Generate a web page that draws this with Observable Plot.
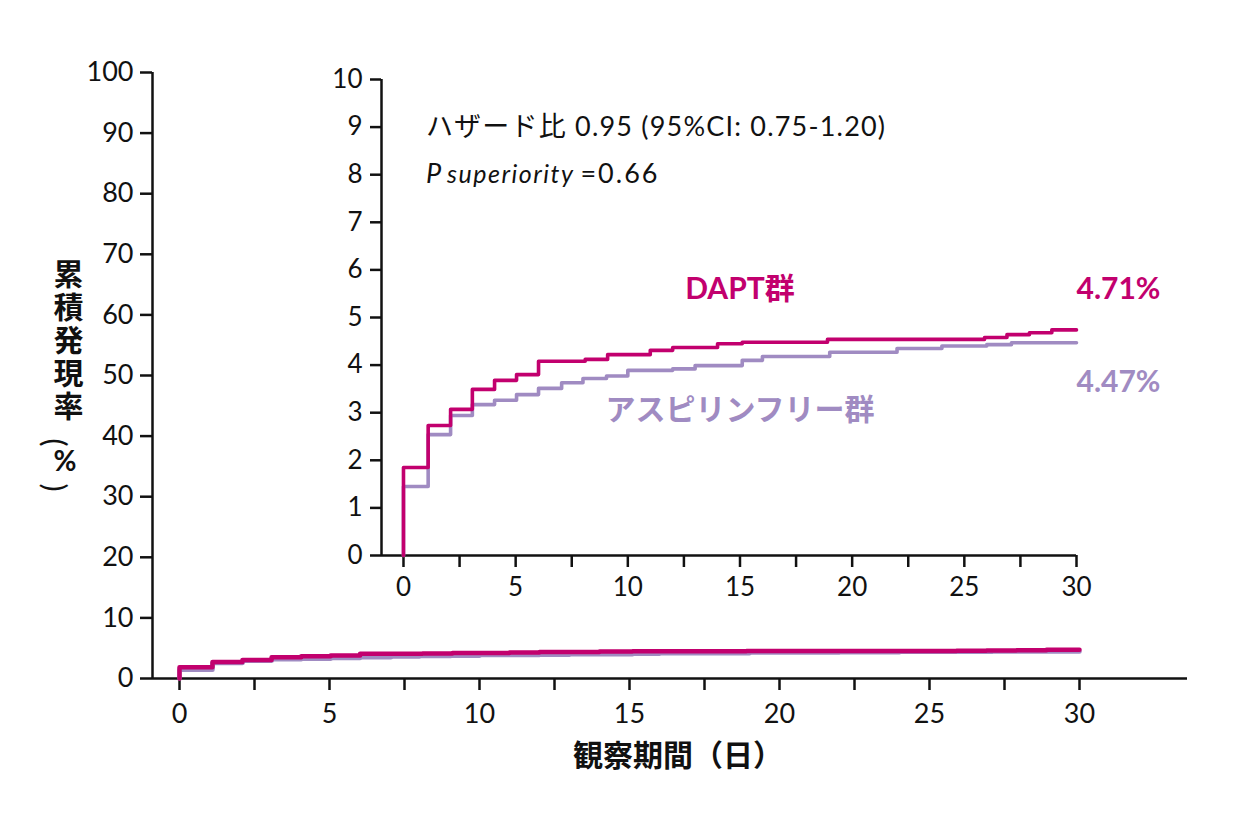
<!DOCTYPE html>
<html>
<head>
<meta charset="utf-8">
<script src="https://cdn.jsdelivr.net/npm/d3@7"></script>
<script src="https://cdn.jsdelivr.net/npm/@observablehq/plot@0.6"></script>
<style>
  body { margin: 0; background: #fff; }
  #wrap { position: relative; width: 1250px; height: 834px; background: #fff; }
  #wrap svg { position: absolute; left: 0; top: 0; }
</style>
</head>
<body>
<div id="wrap"></div>
<script>
// ---- data ----
const dayTicks = [0, 2.5, 5, 7.5, 10, 12.5, 15, 17.5, 20, 22.5, 25, 27.5, 30];
const mainPctTicks = [0, 10, 20, 30, 40, 50, 60, 70, 80, 90, 100];
const insetPctTicks = [0, 1, 2, 3, 4, 5, 6, 7, 8, 9, 10];

const seriesNames = ["アスピリンフリー群", "DAPT群"];
const seriesColors = ["#a08bc2", "#c2006e"];
const finalLabels = ["4.47%", "4.71%"];

const daptDays = [0, 0, 1.1, 2.1, 3.07, 4.06, 5.04, 6.02, 8.1, 9.1, 11.0, 12.0, 14.0, 15.1, 18.9, 25.9, 26.9, 27.9, 28.9, 30];
const daptPct  = [0, 1.85, 2.73, 3.07, 3.49, 3.68, 3.80, 4.08, 4.12, 4.22, 4.31, 4.37, 4.45, 4.48, 4.54, 4.58, 4.64, 4.68, 4.74, 4.74];

const aspDays = [0, 0, 1.1, 2.1, 3.07, 4.06, 5.04, 6.02, 7.05, 8.0, 9.05, 10.0, 12.0, 13.0, 15.1, 16.0, 19.0, 22.0, 24.0, 26.0, 27.1, 30];
const aspPct  = [0, 1.45, 2.54, 2.94, 3.17, 3.26, 3.38, 3.51, 3.63, 3.72, 3.77, 3.89, 3.92, 3.99, 4.10, 4.18, 4.27, 4.35, 4.40, 4.43, 4.47, 4.47];

const hazardText = "ハザード比 0.95 (95%CI: 0.75-1.20)";
const pText = "P superiority =0.66";
const xTitle = "観察期間（日）";
const yTitleMain = "累\n積\n発\n現\n率";
const yTitleOpen = "(";
const yTitlePct = "%";
const yTitleClose = ")";

// ---- build rows ----
const rows = [
  ...aspDays.map((d, i) => ({ series: seriesNames[0], day: d, pct: aspPct[i] })),
  ...daptDays.map((d, i) => ({ series: seriesNames[1], day: d, pct: daptPct[i] }))
];

const fontFam = "Lato, 'Noto Sans CJK JP', sans-serif";
const mainXDomain = [-0.9, 33.6];
const insetXDomain = [-0.98, 30];

// ---- main plot ----
const main = Plot.plot({
  width: 1250, height: 834,
  marginLeft: 152, marginRight: 63, marginTop: 72, marginBottom: 156,
  style: { fontFamily: fontFam, fontSize: "27px", color: "#111", background: "white", overflow: "visible" },
  x: { domain: mainXDomain },
  y: { domain: [0, 100] },
  color: { domain: seriesNames, range: seriesColors },
  marks: [
    Plot.axisX({ ticks: dayTicks, tickFormat: d => (d % 5 === 0 ? d : ""), tickSize: 12, tickPadding: 13, label: null, strokeWidth: 2.5 }),
    Plot.axisY({ ticks: mainPctTicks, tickSize: 12, tickPadding: 7, label: null, strokeWidth: 2.5 }),
    Plot.ruleY([0], { strokeWidth: 2.5, stroke: "#111" }),
    Plot.ruleX([mainXDomain[0]], { strokeWidth: 2.5, stroke: "#111" }),
    Plot.line(rows, { x: "day", y: "pct", z: "series", stroke: "series", curve: "step-after", strokeWidth: 4.5 }),
    Plot.text([xTitle], { text: d => d, frameAnchor: "bottom", dy: 87, dx: 8, fontSize: 30, fontWeight: "bold", fill: "#111" }),
    Plot.text([yTitleMain], { text: d => d, frameAnchor: "left", dx: -99, dy: -35, fontSize: 30, fontWeight: "bold", lineHeight: 1.1, fill: "#111" }),
    Plot.text([yTitleOpen], { text: d => d, frameAnchor: "left", dx: -99, dy: 63, rotate: 90, fontSize: 30, fill: "#111" }),
    Plot.text([yTitlePct], { text: d => d, frameAnchor: "left", dx: -99, dy: 87, fontSize: 28, fontWeight: "bold", fill: "#111" }),
    Plot.text([yTitleClose], { text: d => d, frameAnchor: "left", dx: -99, dy: 108, rotate: 90, fontSize: 30, fill: "#111" })
  ]
});

// ---- inset plot ----
const inset = Plot.plot({
  width: 1250, height: 834,
  marginLeft: 381, marginRight: 174, marginTop: 79, marginBottom: 279,
  style: { fontFamily: fontFam, fontSize: "26px", color: "#111", background: "transparent", overflow: "visible" },
  x: { domain: insetXDomain },
  y: { domain: [0, 10] },
  color: { domain: seriesNames, range: seriesColors },
  marks: [
    Plot.axisX({ ticks: dayTicks, tickFormat: d => (d % 5 === 0 ? d : ""), tickSize: 12, tickPadding: 10, label: null, strokeWidth: 2.5 }),
    Plot.axisY({ ticks: insetPctTicks, tickSize: 11, tickPadding: 8, label: null, strokeWidth: 2.5 }),
    Plot.ruleY([0], { strokeWidth: 2.5, stroke: "#111" }),
    Plot.ruleX([insetXDomain[0]], { strokeWidth: 2.5, stroke: "#111" }),
    Plot.line(rows, { x: "day", y: "pct", z: "series", stroke: "series", curve: "step-after", strokeWidth: 3.6 }),
    Plot.text([hazardText], { text: d => d, x: 1, y: 9, textAnchor: "start", fontSize: 27, fill: "#111" }),
    Plot.text([pText], { text: d => d, x: 1, y: 8, textAnchor: "start", fontSize: 27, fill: "#111" }),
    Plot.text([seriesNames[1]], { text: d => d, x: 15, y: 5.6, fontSize: 30, fontWeight: "bold", fill: seriesColors[1] }),
    Plot.text([seriesNames[0]], { text: d => d, x: 15, y: 3.05, fontSize: 30, fontWeight: "bold", fill: seriesColors[0] }),
    Plot.text([finalLabels[1]], { text: d => d, x: 30, y: 5.6, textAnchor: "start", fontSize: 30, fontWeight: "bold", fill: seriesColors[1] }),
    Plot.text([finalLabels[0]], { text: d => d, x: 30, y: 3.63, textAnchor: "start", fontSize: 30, fontWeight: "bold", fill: seriesColors[0] })
  ]
});

// hazard text letter spacing (wider geometric face in the reference)
d3.select(inset).selectAll("text").filter(function () { return this.textContent === hazardText; })
  .attr("letter-spacing", 1.2);

// italic P / superiority styling
d3.select(inset).selectAll("text").filter(function () { return this.textContent === pText; }).each(function () {
  const t = d3.select(this);
  t.text(null);
  t.append("tspan").attr("font-style", "italic").text("P");
  t.append("tspan").attr("font-style", "italic").attr("font-size", 25).attr("letter-spacing", 1.5).attr("dx", 6).text("superiority");
  t.append("tspan").attr("letter-spacing", 2).attr("dx", 6).text("=0.66");
});

const wrap = document.getElementById("wrap");
wrap.appendChild(main);
wrap.appendChild(inset);
</script>
</body>
</html>
